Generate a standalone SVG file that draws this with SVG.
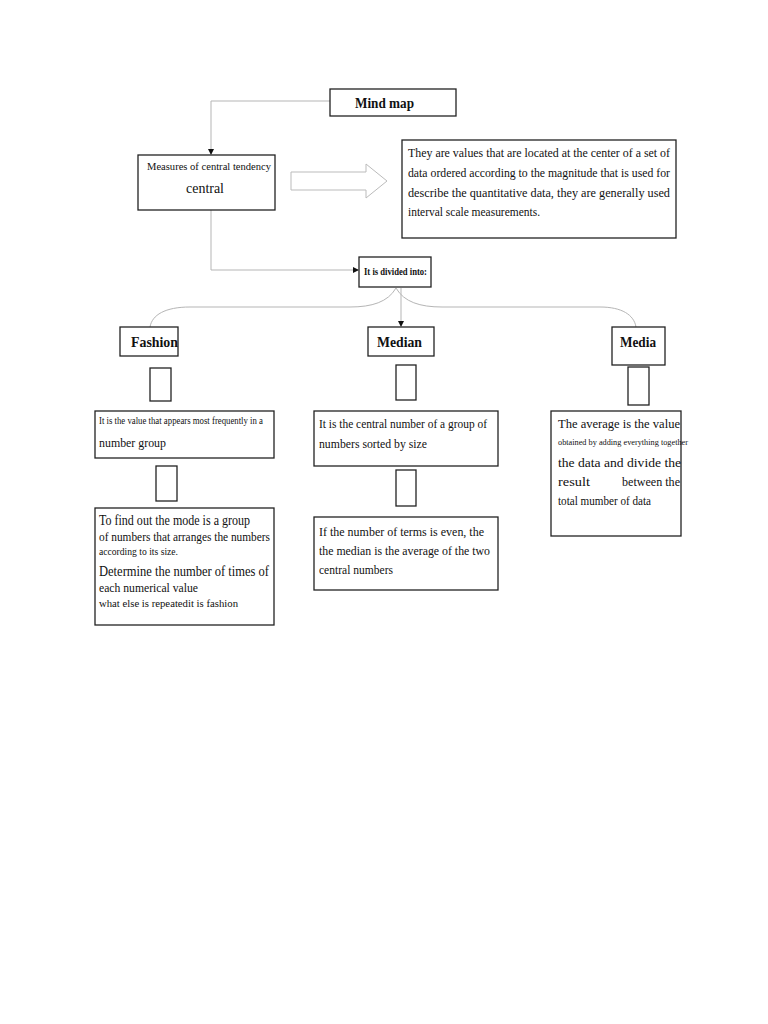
<svg xmlns="http://www.w3.org/2000/svg" width="768" height="1024" viewBox="0 0 768 1024">
<defs>
<marker id="ah" markerWidth="6" markerHeight="6" refX="5" refY="3" orient="auto" markerUnits="userSpaceOnUse">
<path d="M0,0 L6,3 L0,6 Z" fill="#111"/>
</marker>
<style>
.box{fill:#fff;stroke:#222;stroke-width:1.3}
.conn{fill:none;stroke:#b5b5b5;stroke-width:1}
.t{font-family:"Liberation Serif","Times New Roman",serif;fill:#111}
.b{font-weight:bold}
</style>
</defs>
<rect width="768" height="1024" fill="#fff"/>
<g id="connectors">
<polyline class="conn" points="330,101 211,101 211,154" marker-end="url(#ah)"/>
<polyline class="conn" points="211,210 211,270 358,270" marker-end="url(#ah)"/>
<path class="conn" d="M396,288 C388,302 372,307 350,307 L190,307 C165,307 152,315 150,327"/>
<path class="conn" d="M396,288 C404,302 420,307 442,307 L600,307 C622,307 634,315 636,327"/>
<line class="conn" x1="401" y1="288" x2="401" y2="326" marker-end="url(#ah)"/>
<path d="M291,172 L366,172 L366,164 L387,181 L366,198 L366,190 L291,190 Z" fill="#fff" stroke="#bbb" stroke-width="1"/>
</g>
<g id="mindmap">
<rect class="box" x="330" y="89" width="126" height="27"/>
<text class="t b" x="355" y="108" font-size="14.5" textLength="59" lengthAdjust="spacingAndGlyphs">Mind map</text>
</g>
<g id="measures">
<rect class="box" x="138" y="155" width="137" height="55"/>
<text class="t" x="147" y="170" font-size="11" textLength="124" lengthAdjust="spacingAndGlyphs">Measures of central tendency</text>
<text class="t" x="186" y="193" font-size="14" textLength="38" lengthAdjust="spacingAndGlyphs">central</text>
</g>
<g id="definition">
<rect class="box" x="402" y="140" width="274" height="98"/>
<text class="t" font-size="12.5">
<tspan x="408" y="157" textLength="262" lengthAdjust="spacingAndGlyphs">They are values that are located at the center of a set of</tspan>
<tspan x="408" y="177" textLength="262" lengthAdjust="spacingAndGlyphs">data ordered according to the magnitude that is used for</tspan>
<tspan x="408" y="197" textLength="262" lengthAdjust="spacingAndGlyphs">describe the quantitative data, they are generally used</tspan>
<tspan x="408" y="216" textLength="132" lengthAdjust="spacingAndGlyphs">interval scale measurements.</tspan>
</text>
</g>
<g id="divided">
<rect class="box" x="359" y="257" width="72" height="30"/>
<text class="t b" x="364" y="275" font-size="10.5" textLength="63" lengthAdjust="spacingAndGlyphs">It is divided into:</text>
</g>
<g id="fashion">
<rect class="box" x="120" y="327" width="58" height="29"/>
<text class="t b" x="131" y="347" font-size="14" textLength="47" lengthAdjust="spacingAndGlyphs">Fashion</text>
</g>
<g id="median">
<rect class="box" x="368" y="327" width="66" height="29"/>
<text class="t b" x="377" y="347" font-size="14" textLength="45" lengthAdjust="spacingAndGlyphs">Median</text>
</g>
<g id="media">
<rect class="box" x="612" y="327" width="53" height="38"/>
<text class="t b" x="620" y="347" font-size="14" textLength="36" lengthAdjust="spacingAndGlyphs">Media</text>
</g>
<g id="fashion-small1"><rect class="box" x="150" y="368" width="21" height="33"/></g>
<g id="fashion-small2"><rect class="box" x="156" y="466" width="21" height="35"/></g>
<g id="median-small1"><rect class="box" x="396" y="365" width="20" height="35"/></g>
<g id="median-small2"><rect class="box" x="396" y="470" width="20" height="36"/></g>
<g id="media-small1"><rect class="box" x="628" y="367" width="21" height="38"/></g>
<g id="fashion-def">
<rect class="box" x="95" y="411" width="179" height="47"/>
<text class="t" x="99" y="424" font-size="10" textLength="164" lengthAdjust="spacingAndGlyphs">It is the value that appears most frequently in a</text>
<text class="t" x="99" y="447" font-size="13" textLength="67" lengthAdjust="spacingAndGlyphs">number group</text>
</g>
<g id="fashion-how">
<rect class="box" x="95" y="508" width="179" height="117"/>
<text class="t" x="99" y="525" font-size="14" textLength="151" lengthAdjust="spacingAndGlyphs">To find out the mode is a group</text>
<text class="t" x="99" y="541" font-size="12" textLength="171" lengthAdjust="spacingAndGlyphs">of numbers that arranges the numbers</text>
<text class="t" x="99" y="555" font-size="10" textLength="79" lengthAdjust="spacingAndGlyphs">according to its size.</text>
<text class="t" x="99" y="576" font-size="14" textLength="170" lengthAdjust="spacingAndGlyphs">Determine the number of times of</text>
<text class="t" x="99" y="592" font-size="13" textLength="99" lengthAdjust="spacingAndGlyphs">each numerical value</text>
<text class="t" x="99" y="607" font-size="11" textLength="139" lengthAdjust="spacingAndGlyphs">what else is repeatedit is fashion</text>
</g>
<g id="median-def">
<rect class="box" x="314" y="411" width="184" height="55"/>
<text class="t" x="319" y="428" font-size="12.5" textLength="168" lengthAdjust="spacingAndGlyphs">It is the central number of a group of</text>
<text class="t" x="319" y="448" font-size="12.5" textLength="108" lengthAdjust="spacingAndGlyphs">numbers sorted by size</text>
</g>
<g id="median-how">
<rect class="box" x="314" y="517" width="184" height="73"/>
<text class="t" x="319" y="536" font-size="12.5" textLength="165" lengthAdjust="spacingAndGlyphs">If the number of terms is even, the</text>
<text class="t" x="319" y="555" font-size="12.5" textLength="171" lengthAdjust="spacingAndGlyphs">the median is the average of the two</text>
<text class="t" x="319" y="574" font-size="12.5" textLength="74" lengthAdjust="spacingAndGlyphs">central numbers</text>
</g>
<g id="media-def">
<rect class="box" x="551" y="411" width="130" height="125"/>
<text class="t" x="558" y="428" font-size="12.5" textLength="122" lengthAdjust="spacingAndGlyphs">The average is the value</text>
<text class="t" x="558" y="445" font-size="9" textLength="130" lengthAdjust="spacingAndGlyphs">obtained by adding everything together</text>
<text class="t" x="558" y="467" font-size="13" textLength="123" lengthAdjust="spacingAndGlyphs">the data and divide the</text>
<text class="t" x="558" y="486" font-size="13" textLength="32" lengthAdjust="spacingAndGlyphs">result</text>
<text class="t" x="622" y="486" font-size="13" textLength="58" lengthAdjust="spacingAndGlyphs">between the</text>
<text class="t" x="558" y="505" font-size="13" textLength="93" lengthAdjust="spacingAndGlyphs">total mumber of data</text>
</g>
</svg>
